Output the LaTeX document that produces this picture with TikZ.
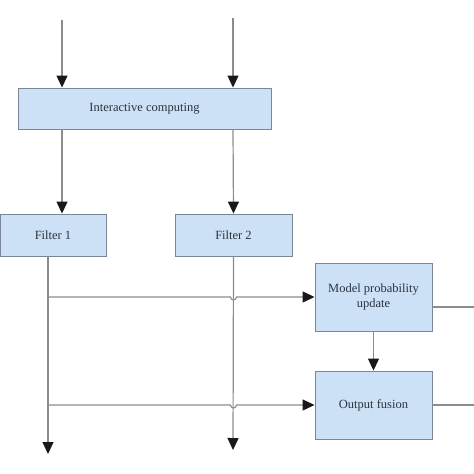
\documentclass[tikz,border=0pt]{standalone}
\usepackage{fontspec}
\setmainfont{Liberation Serif}
\usetikzlibrary{arrows.meta,calc}

\definecolor{boxfill}{HTML}{CCE1F5}
\definecolor{boxline}{HTML}{7A8696}
\definecolor{wire}{HTML}{8C8C8C}
\definecolor{boxtext}{HTML}{2B3340}

\begin{document}
\begin{tikzpicture}[
    x=1pt, y=-1pt,
    block/.style={
        draw=boxline,
        fill=boxfill,       % light blue boxes
        line width=0.9pt,
        align=center,
        inner sep=0pt,
        font=\fontsize{12.5}{15}\selectfont\color{boxtext}
    },
    flow/.style={
        draw=wire,
        line width=1.2pt,
        -{Triangle[length=12pt,width=11pt,color=black!90]}
    }
]
\clip (0,0) rectangle (474,474);
\fill[white] (0,0) rectangle (474,474);

% boxes
\node[block, minimum width=253pt, minimum height=41pt] (ic) at (144.5,108.5) {Interactive computing};
\node[block, minimum width=106pt, minimum height=42pt] (f1) at (53,235) {Filter 1};
\node[block, minimum width=117pt, minimum height=42pt] (f2) at (233.5,235) {Filter 2};
\node[block, minimum width=117pt, minimum height=68pt] (mpu) at (373.5,297) {Model probability\\update};
\node[block, minimum width=117pt, minimum height=68pt] (of) at (373.5,405) {Output fusion};

% free ends
\coordinate (in1) at (62,20);
\coordinate (in2) at (233,18);
\coordinate (d1) at (48,454);
\coordinate (d2) at (233,450);
\coordinate (j1) at (48,297);
\coordinate (j2) at (48,405);
\coordinate (r1) at (486.5,307);
\coordinate (r2) at (486.5,405);

% inputs and filters
\draw[flow] (in1) -- (in1 |- ic.north);
\draw[flow] (in2) -- (in2 |- ic.north);
\draw[flow] (in1 |- ic.south) -- (in1 |- f1.north);
\draw[flow] (in2 |- ic.south) -- (f2.north);

% filter outputs going down
\draw[flow] (f1.south -| d1) -- (d1);
\draw[flow] (f2.south) -- (d2);

% branches to the right, hopping over filter 2
\draw[flow] (j1) -- ($(f2.south |- j1)+(-3,0)$) arc (180:0:3) -- (mpu.west);
\draw[flow] (j2) -- ($(f2.south |- j2)+(-3,0)$) arc (180:0:3) -- (of.west);

\draw[flow] (mpu) -- (of);

% outputs, cut at the edge
\draw[flow] (r1 -| mpu.east) -- (r1);
\draw[flow] (of.east) -- (r2);
\end{tikzpicture}
\end{document}
